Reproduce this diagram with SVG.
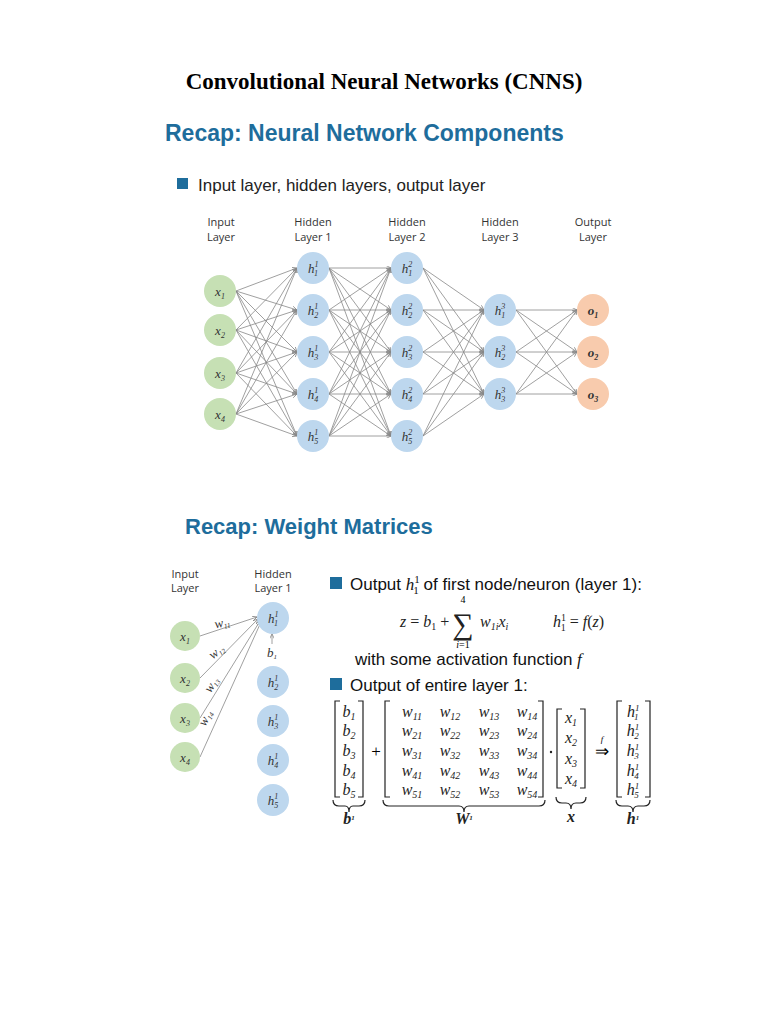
<svg xmlns="http://www.w3.org/2000/svg" width="768" height="1024" viewBox="0 0 768 1024">
<style>
.t{font-family:"Liberation Serif",serif}
.s{font-family:"Liberation Sans",sans-serif}
.m{font-family:"Liberation Serif",serif;font-style:italic}
.h{font-family:"Liberation Sans",sans-serif;font-weight:bold;fill:#1e6d9c}
.lab{font-family:"Open Sans","Liberation Sans",sans-serif;font-size:11px;fill:#333;text-anchor:middle}
.g{fill:#c6e0b4}.b{fill:#bdd7ee}.o{fill:#f8cbad}
.nl{font-family:"Liberation Serif",serif;font-style:italic;font-size:13px;fill:#333;text-anchor:middle}
.c line{stroke:#888;stroke-width:0.8;marker-end:url(#a)}
.br{fill:none;stroke:#222;stroke-width:1.2}
.mt{font-family:"Liberation Serif",serif;font-style:italic;font-size:16px;fill:#222;text-anchor:middle}
</style>
<defs><marker id="a" viewBox="0 0 6 6" refX="6" refY="3" markerWidth="6" markerHeight="6" orient="auto"><path d="M0,0L6,3L0,6" fill="none" stroke="#888" stroke-width="1"/></marker></defs>
<rect width="768" height="1024" fill="#fff"/>
<text class="t" x="384" y="89" font-size="23" font-weight="bold" text-anchor="middle">Convolutional Neural Networks (CNNS)</text>
<text class="h" x="165" y="141" font-size="23">Recap: Neural Network Components</text>
<rect x="177" y="178" width="11" height="11" fill="#1e6d9c"/>
<text class="s" x="198" y="191" font-size="17" fill="#222">Input layer, hidden layers, output layer</text>
<g class="lab"><text x="221" y="226">Input</text><text x="221" y="241">Layer</text>
<text x="313" y="226">Hidden</text><text x="313" y="241">Layer 1</text>
<text x="407" y="226">Hidden</text><text x="407" y="241">Layer 2</text>
<text x="500" y="226">Hidden</text><text x="500" y="241">Layer 3</text>
<text x="593" y="226">Output</text><text x="593" y="241">Layer</text></g>
<g class="c" id="connectors1">
<line x1="236" y1="291" x2="297" y2="268"/><line x1="236" y1="291" x2="297" y2="310"/><line x1="236" y1="291" x2="297" y2="352"/><line x1="236" y1="291" x2="297" y2="394"/><line x1="236" y1="291" x2="297" y2="436"/>
<line x1="236" y1="330" x2="297" y2="268"/><line x1="236" y1="330" x2="297" y2="310"/><line x1="236" y1="330" x2="297" y2="352"/><line x1="236" y1="330" x2="297" y2="394"/><line x1="236" y1="330" x2="297" y2="436"/>
<line x1="236" y1="373" x2="297" y2="268"/><line x1="236" y1="373" x2="297" y2="310"/><line x1="236" y1="373" x2="297" y2="352"/><line x1="236" y1="373" x2="297" y2="394"/><line x1="236" y1="373" x2="297" y2="436"/>
<line x1="236" y1="414" x2="297" y2="268"/><line x1="236" y1="414" x2="297" y2="310"/><line x1="236" y1="414" x2="297" y2="352"/><line x1="236" y1="414" x2="297" y2="394"/><line x1="236" y1="414" x2="297" y2="436"/>
<line x1="329" y1="268" x2="391" y2="268"/><line x1="329" y1="268" x2="391" y2="310"/><line x1="329" y1="268" x2="391" y2="352"/><line x1="329" y1="268" x2="391" y2="394"/><line x1="329" y1="268" x2="391" y2="436"/>
<line x1="329" y1="310" x2="391" y2="268"/><line x1="329" y1="310" x2="391" y2="310"/><line x1="329" y1="310" x2="391" y2="352"/><line x1="329" y1="310" x2="391" y2="394"/><line x1="329" y1="310" x2="391" y2="436"/>
<line x1="329" y1="352" x2="391" y2="268"/><line x1="329" y1="352" x2="391" y2="310"/><line x1="329" y1="352" x2="391" y2="352"/><line x1="329" y1="352" x2="391" y2="394"/><line x1="329" y1="352" x2="391" y2="436"/>
<line x1="329" y1="394" x2="391" y2="268"/><line x1="329" y1="394" x2="391" y2="310"/><line x1="329" y1="394" x2="391" y2="352"/><line x1="329" y1="394" x2="391" y2="394"/><line x1="329" y1="394" x2="391" y2="436"/>
<line x1="329" y1="436" x2="391" y2="268"/><line x1="329" y1="436" x2="391" y2="310"/><line x1="329" y1="436" x2="391" y2="352"/><line x1="329" y1="436" x2="391" y2="394"/><line x1="329" y1="436" x2="391" y2="436"/>
<line x1="423" y1="268" x2="484" y2="310"/><line x1="423" y1="268" x2="484" y2="352"/><line x1="423" y1="268" x2="484" y2="394"/>
<line x1="423" y1="310" x2="484" y2="310"/><line x1="423" y1="310" x2="484" y2="352"/><line x1="423" y1="310" x2="484" y2="394"/>
<line x1="423" y1="352" x2="484" y2="310"/><line x1="423" y1="352" x2="484" y2="352"/><line x1="423" y1="352" x2="484" y2="394"/>
<line x1="423" y1="394" x2="484" y2="310"/><line x1="423" y1="394" x2="484" y2="352"/><line x1="423" y1="394" x2="484" y2="394"/>
<line x1="423" y1="436" x2="484" y2="310"/><line x1="423" y1="436" x2="484" y2="352"/><line x1="423" y1="436" x2="484" y2="394"/>
<line x1="516" y1="310" x2="577" y2="310"/><line x1="516" y1="310" x2="577" y2="352"/><line x1="516" y1="310" x2="577" y2="394"/>
<line x1="516" y1="352" x2="577" y2="310"/><line x1="516" y1="352" x2="577" y2="352"/><line x1="516" y1="352" x2="577" y2="394"/>
<line x1="516" y1="394" x2="577" y2="310"/><line x1="516" y1="394" x2="577" y2="352"/><line x1="516" y1="394" x2="577" y2="394"/>
</g>
<g id="x1"><circle class="g" cx="220" cy="291" r="16"/><text class="nl" x="220" y="296">x<tspan font-size="8" dy="3">1</tspan></text></g>
<g id="x2"><circle class="g" cx="220" cy="330" r="16"/><text class="nl" x="220" y="335">x<tspan font-size="8" dy="3">2</tspan></text></g>
<g id="x3"><circle class="g" cx="220" cy="373" r="16"/><text class="nl" x="220" y="378">x<tspan font-size="8" dy="3">3</tspan></text></g>
<g id="x4"><circle class="g" cx="220" cy="414" r="16"/><text class="nl" x="220" y="419">x<tspan font-size="8" dy="3">4</tspan></text></g>
<g id="h11"><circle class="b" cx="313" cy="268" r="16"/><text class="nl" x="313" y="273">h<tspan font-size="8" dy="-6">1</tspan><tspan font-size="8" dx="-4" dy="9">1</tspan></text></g>
<g id="h12"><circle class="b" cx="313" cy="310" r="16"/><text class="nl" x="313" y="315">h<tspan font-size="8" dy="-6">1</tspan><tspan font-size="8" dx="-4" dy="9">2</tspan></text></g>
<g id="h13"><circle class="b" cx="313" cy="352" r="16"/><text class="nl" x="313" y="357">h<tspan font-size="8" dy="-6">1</tspan><tspan font-size="8" dx="-4" dy="9">3</tspan></text></g>
<g id="h14"><circle class="b" cx="313" cy="394" r="16"/><text class="nl" x="313" y="399">h<tspan font-size="8" dy="-6">1</tspan><tspan font-size="8" dx="-4" dy="9">4</tspan></text></g>
<g id="h15"><circle class="b" cx="313" cy="436" r="16"/><text class="nl" x="313" y="441">h<tspan font-size="8" dy="-6">1</tspan><tspan font-size="8" dx="-4" dy="9">5</tspan></text></g>
<g id="h21"><circle class="b" cx="407" cy="268" r="16"/><text class="nl" x="407" y="273">h<tspan font-size="8" dy="-6">2</tspan><tspan font-size="8" dx="-4" dy="9">1</tspan></text></g>
<g id="h22"><circle class="b" cx="407" cy="310" r="16"/><text class="nl" x="407" y="315">h<tspan font-size="8" dy="-6">2</tspan><tspan font-size="8" dx="-4" dy="9">2</tspan></text></g>
<g id="h23"><circle class="b" cx="407" cy="352" r="16"/><text class="nl" x="407" y="357">h<tspan font-size="8" dy="-6">2</tspan><tspan font-size="8" dx="-4" dy="9">3</tspan></text></g>
<g id="h24"><circle class="b" cx="407" cy="394" r="16"/><text class="nl" x="407" y="399">h<tspan font-size="8" dy="-6">2</tspan><tspan font-size="8" dx="-4" dy="9">4</tspan></text></g>
<g id="h25"><circle class="b" cx="407" cy="436" r="16"/><text class="nl" x="407" y="441">h<tspan font-size="8" dy="-6">2</tspan><tspan font-size="8" dx="-4" dy="9">5</tspan></text></g>
<g id="h31"><circle class="b" cx="500" cy="310" r="16"/><text class="nl" x="500" y="315">h<tspan font-size="8" dy="-6">3</tspan><tspan font-size="8" dx="-4" dy="9">1</tspan></text></g>
<g id="h32"><circle class="b" cx="500" cy="352" r="16"/><text class="nl" x="500" y="357">h<tspan font-size="8" dy="-6">3</tspan><tspan font-size="8" dx="-4" dy="9">2</tspan></text></g>
<g id="h33"><circle class="b" cx="500" cy="394" r="16"/><text class="nl" x="500" y="399">h<tspan font-size="8" dy="-6">3</tspan><tspan font-size="8" dx="-4" dy="9">3</tspan></text></g>
<g id="o1"><circle class="o" cx="593" cy="310" r="16"/><text class="nl" x="593" y="315" font-weight="bold">o<tspan font-size="8" dy="3">1</tspan></text></g>
<g id="o2"><circle class="o" cx="593" cy="352" r="16"/><text class="nl" x="593" y="357" font-weight="bold">o<tspan font-size="8" dy="3">2</tspan></text></g>
<g id="o3"><circle class="o" cx="593" cy="394" r="16"/><text class="nl" x="593" y="399" font-weight="bold">o<tspan font-size="8" dy="3">3</tspan></text></g>

<text class="h" x="185" y="534" font-size="22">Recap: Weight Matrices</text>
<g class="lab"><text x="185" y="578">Input</text><text x="185" y="592">Layer</text>
<text x="273" y="578">Hidden</text><text x="273" y="592">Layer 1</text></g>
<g class="c" id="connectors2">
<line x1="200" y1="636" x2="257" y2="617"/><line x1="200" y1="678" x2="258" y2="619"/><line x1="200" y1="718" x2="260" y2="621"/><line x1="200" y1="757" x2="261" y2="622"/><line x1="272" y1="644" x2="272" y2="634"/>
</g>
<g class="nl" font-size="11"><text x="223" y="627" transform="rotate(-12 223 627)">w<tspan font-size="7" dy="2">11</tspan></text>
<text x="219" y="655" transform="rotate(-38 219 655)">w<tspan font-size="7" dy="2">12</tspan></text>
<text x="215" y="687" transform="rotate(-55 215 687)">w<tspan font-size="7" dy="2">13</tspan></text>
<text x="209" y="720" transform="rotate(-62 209 720)">w<tspan font-size="7" dy="2">14</tspan></text>
<text x="272" y="657">b<tspan font-size="7" dy="2">1</tspan></text></g>
<g id="ix1"><circle class="g" cx="185" cy="636" r="15"/><text class="nl" x="185" y="641" font-size="12">x<tspan font-size="8" dy="3">1</tspan></text></g>
<g id="ix2"><circle class="g" cx="185" cy="678" r="15"/><text class="nl" x="185" y="683" font-size="12">x<tspan font-size="8" dy="3">2</tspan></text></g>
<g id="ix3"><circle class="g" cx="185" cy="718" r="15"/><text class="nl" x="185" y="723" font-size="12">x<tspan font-size="8" dy="3">3</tspan></text></g>
<g id="ix4"><circle class="g" cx="185" cy="757" r="15"/><text class="nl" x="185" y="762" font-size="12">x<tspan font-size="8" dy="3">4</tspan></text></g>
<g id="ih1"><circle class="b" cx="273" cy="618" r="16"/><text class="nl" x="273" y="623" font-size="12">h<tspan font-size="8" dy="-6">1</tspan><tspan font-size="8" dx="-4" dy="9">1</tspan></text></g>
<g id="ih2"><circle class="b" cx="273" cy="682" r="16"/><text class="nl" x="273" y="687" font-size="12">h<tspan font-size="8" dy="-6">1</tspan><tspan font-size="8" dx="-4" dy="9">2</tspan></text></g>
<g id="ih3"><circle class="b" cx="273" cy="721" r="16"/><text class="nl" x="273" y="726" font-size="12">h<tspan font-size="8" dy="-6">1</tspan><tspan font-size="8" dx="-4" dy="9">3</tspan></text></g>
<g id="ih4"><circle class="b" cx="273" cy="760" r="16"/><text class="nl" x="273" y="765" font-size="12">h<tspan font-size="8" dy="-6">1</tspan><tspan font-size="8" dx="-4" dy="9">4</tspan></text></g>
<g id="ih5"><circle class="b" cx="273" cy="800" r="16"/><text class="nl" x="273" y="805" font-size="12">h<tspan font-size="8" dy="-6">1</tspan><tspan font-size="8" dx="-4" dy="9">5</tspan></text></g>

<rect x="330" y="577" width="12" height="12" fill="#1e6d9c"/>
<text class="s" x="350" y="590" font-size="17" fill="#111">Output <tspan class="m">h</tspan><tspan font-size="11" dy="-7" class="t">1</tspan><tspan font-size="11" dx="-6" dy="11" class="t">1</tspan><tspan dy="-4"> of first node/neuron (layer 1):</tspan></text>
<text class="m" x="400" y="627" font-size="16" fill="#222">z <tspan font-style="normal">=</tspan> b<tspan font-size="10" dy="3" font-style="normal">1</tspan><tspan dy="-3" font-style="normal"> +</tspan></text>
<text class="t" x="463" y="634" font-size="30" text-anchor="middle" fill="#222">∑</text>
<text class="t" x="463" y="603" font-size="10" text-anchor="middle">4</text>
<text class="m" x="463" y="648" font-size="10" text-anchor="middle">i<tspan font-style="normal">=1</tspan></text>
<text class="m" x="480" y="627" font-size="16" fill="#222">w<tspan font-size="10" dy="3">1i</tspan><tspan dy="-3">x</tspan><tspan font-size="10" dy="3">i</tspan></text>
<text class="m" x="553" y="627" font-size="16" fill="#222">h<tspan font-size="10" dy="-6" font-style="normal">1</tspan><tspan font-size="10" dx="-5" dy="10" font-style="normal">1</tspan><tspan dy="-4" font-style="normal"> = </tspan>f<tspan font-style="normal">(</tspan>z<tspan font-style="normal">)</tspan></text>
<text class="s" x="355" y="665" font-size="17" fill="#111">with some activation function <tspan class="m">f</tspan></text>
<rect x="330" y="678" width="12" height="12" fill="#1e6d9c"/>
<text class="s" x="350" y="691" font-size="17" fill="#111">Output of entire layer 1:</text>

<g id="matrices">
<path class="br" d="M340,701H335V797H340M358,701H363V797H358"/>
<text class="mt" x="349" y="717">b<tspan font-size="10" dy="3">1</tspan></text>
<text class="mt" x="349" y="736">b<tspan font-size="10" dy="3">2</tspan></text>
<text class="mt" x="349" y="756">b<tspan font-size="10" dy="3">3</tspan></text>
<text class="mt" x="349" y="776">b<tspan font-size="10" dy="3">4</tspan></text>
<text class="mt" x="349" y="795">b<tspan font-size="10" dy="3">5</tspan></text>
<text class="t" x="376" y="757" font-size="17" text-anchor="middle">+</text>
<path class="br" d="M390,701H385V797H390M538,701H543V797H538"/>
<g class="mt">
<text x="412" y="717">w<tspan font-size="10" dy="3">11</tspan></text><text x="450" y="717">w<tspan font-size="10" dy="3">12</tspan></text><text x="489" y="717">w<tspan font-size="10" dy="3">13</tspan></text><text x="527" y="717">w<tspan font-size="10" dy="3">14</tspan></text>
<text x="412" y="736">w<tspan font-size="10" dy="3">21</tspan></text><text x="450" y="736">w<tspan font-size="10" dy="3">22</tspan></text><text x="489" y="736">w<tspan font-size="10" dy="3">23</tspan></text><text x="527" y="736">w<tspan font-size="10" dy="3">24</tspan></text>
<text x="412" y="756">w<tspan font-size="10" dy="3">31</tspan></text><text x="450" y="756">w<tspan font-size="10" dy="3">32</tspan></text><text x="489" y="756">w<tspan font-size="10" dy="3">33</tspan></text><text x="527" y="756">w<tspan font-size="10" dy="3">34</tspan></text>
<text x="412" y="776">w<tspan font-size="10" dy="3">41</tspan></text><text x="450" y="776">w<tspan font-size="10" dy="3">42</tspan></text><text x="489" y="776">w<tspan font-size="10" dy="3">43</tspan></text><text x="527" y="776">w<tspan font-size="10" dy="3">44</tspan></text>
<text x="412" y="795">w<tspan font-size="10" dy="3">51</tspan></text><text x="450" y="795">w<tspan font-size="10" dy="3">52</tspan></text><text x="489" y="795">w<tspan font-size="10" dy="3">53</tspan></text><text x="527" y="795">w<tspan font-size="10" dy="3">54</tspan></text>
</g>
<circle cx="551" cy="752" r="1.2" fill="#222"/>
<path class="br" d="M562,709H557V788H562M580,709H585V788H580"/>
<text class="mt" x="571" y="723">x<tspan font-size="10" dy="3">1</tspan></text>
<text class="mt" x="571" y="743">x<tspan font-size="10" dy="3">2</tspan></text>
<text class="mt" x="571" y="764">x<tspan font-size="10" dy="3">3</tspan></text>
<text class="mt" x="571" y="784">x<tspan font-size="10" dy="3">4</tspan></text>
<text class="t" x="602" y="757" font-size="17" text-anchor="middle">⇒</text>
<text class="m" x="602" y="742" font-size="9" text-anchor="middle">f</text>
<path class="br" d="M622,701H617V797H622M645,701H650V797H645"/>
<g class="mt" font-size="15">
<text x="633" y="717">h<tspan font-size="9" dy="-6">1</tspan><tspan font-size="9" dx="-5" dy="9">1</tspan></text>
<text x="633" y="736">h<tspan font-size="9" dy="-6">1</tspan><tspan font-size="9" dx="-5" dy="9">2</tspan></text>
<text x="633" y="756">h<tspan font-size="9" dy="-6">1</tspan><tspan font-size="9" dx="-5" dy="9">3</tspan></text>
<text x="633" y="776">h<tspan font-size="9" dy="-6">1</tspan><tspan font-size="9" dx="-5" dy="9">4</tspan></text>
<text x="633" y="795">h<tspan font-size="9" dy="-6">1</tspan><tspan font-size="9" dx="-5" dy="9">5</tspan></text>
</g>
<g class="br">
<path d="M333,800q0,6 6,6h6q4,0 4,6q0,-6 4,-6h6q6,0 6,-6"/>
<path d="M383,800q0,6 6,6h70q5,0 5,6q0,-6 5,-6h70q6,0 6,-6"/>
<path d="M556,797q0,6 6,6h4q5,0 5,6q0,-6 5,-6h4q6,0 6,-6"/>
<path d="M616,800q0,6 6,6h6q5,0 5,6q0,-6 5,-6h6q6,0 6,-6"/>
</g>
<g class="mt" font-size="10" font-weight="bold">
<text x="349" y="824">b<tspan font-size="7" dy="-4">1</tspan></text>
<text x="464" y="824">W<tspan font-size="7" dy="-4">1</tspan></text>
<text x="571" y="822">x</text>
<text x="633" y="824">h<tspan font-size="7" dy="-4">1</tspan></text>
</g>
</g>
</svg>
